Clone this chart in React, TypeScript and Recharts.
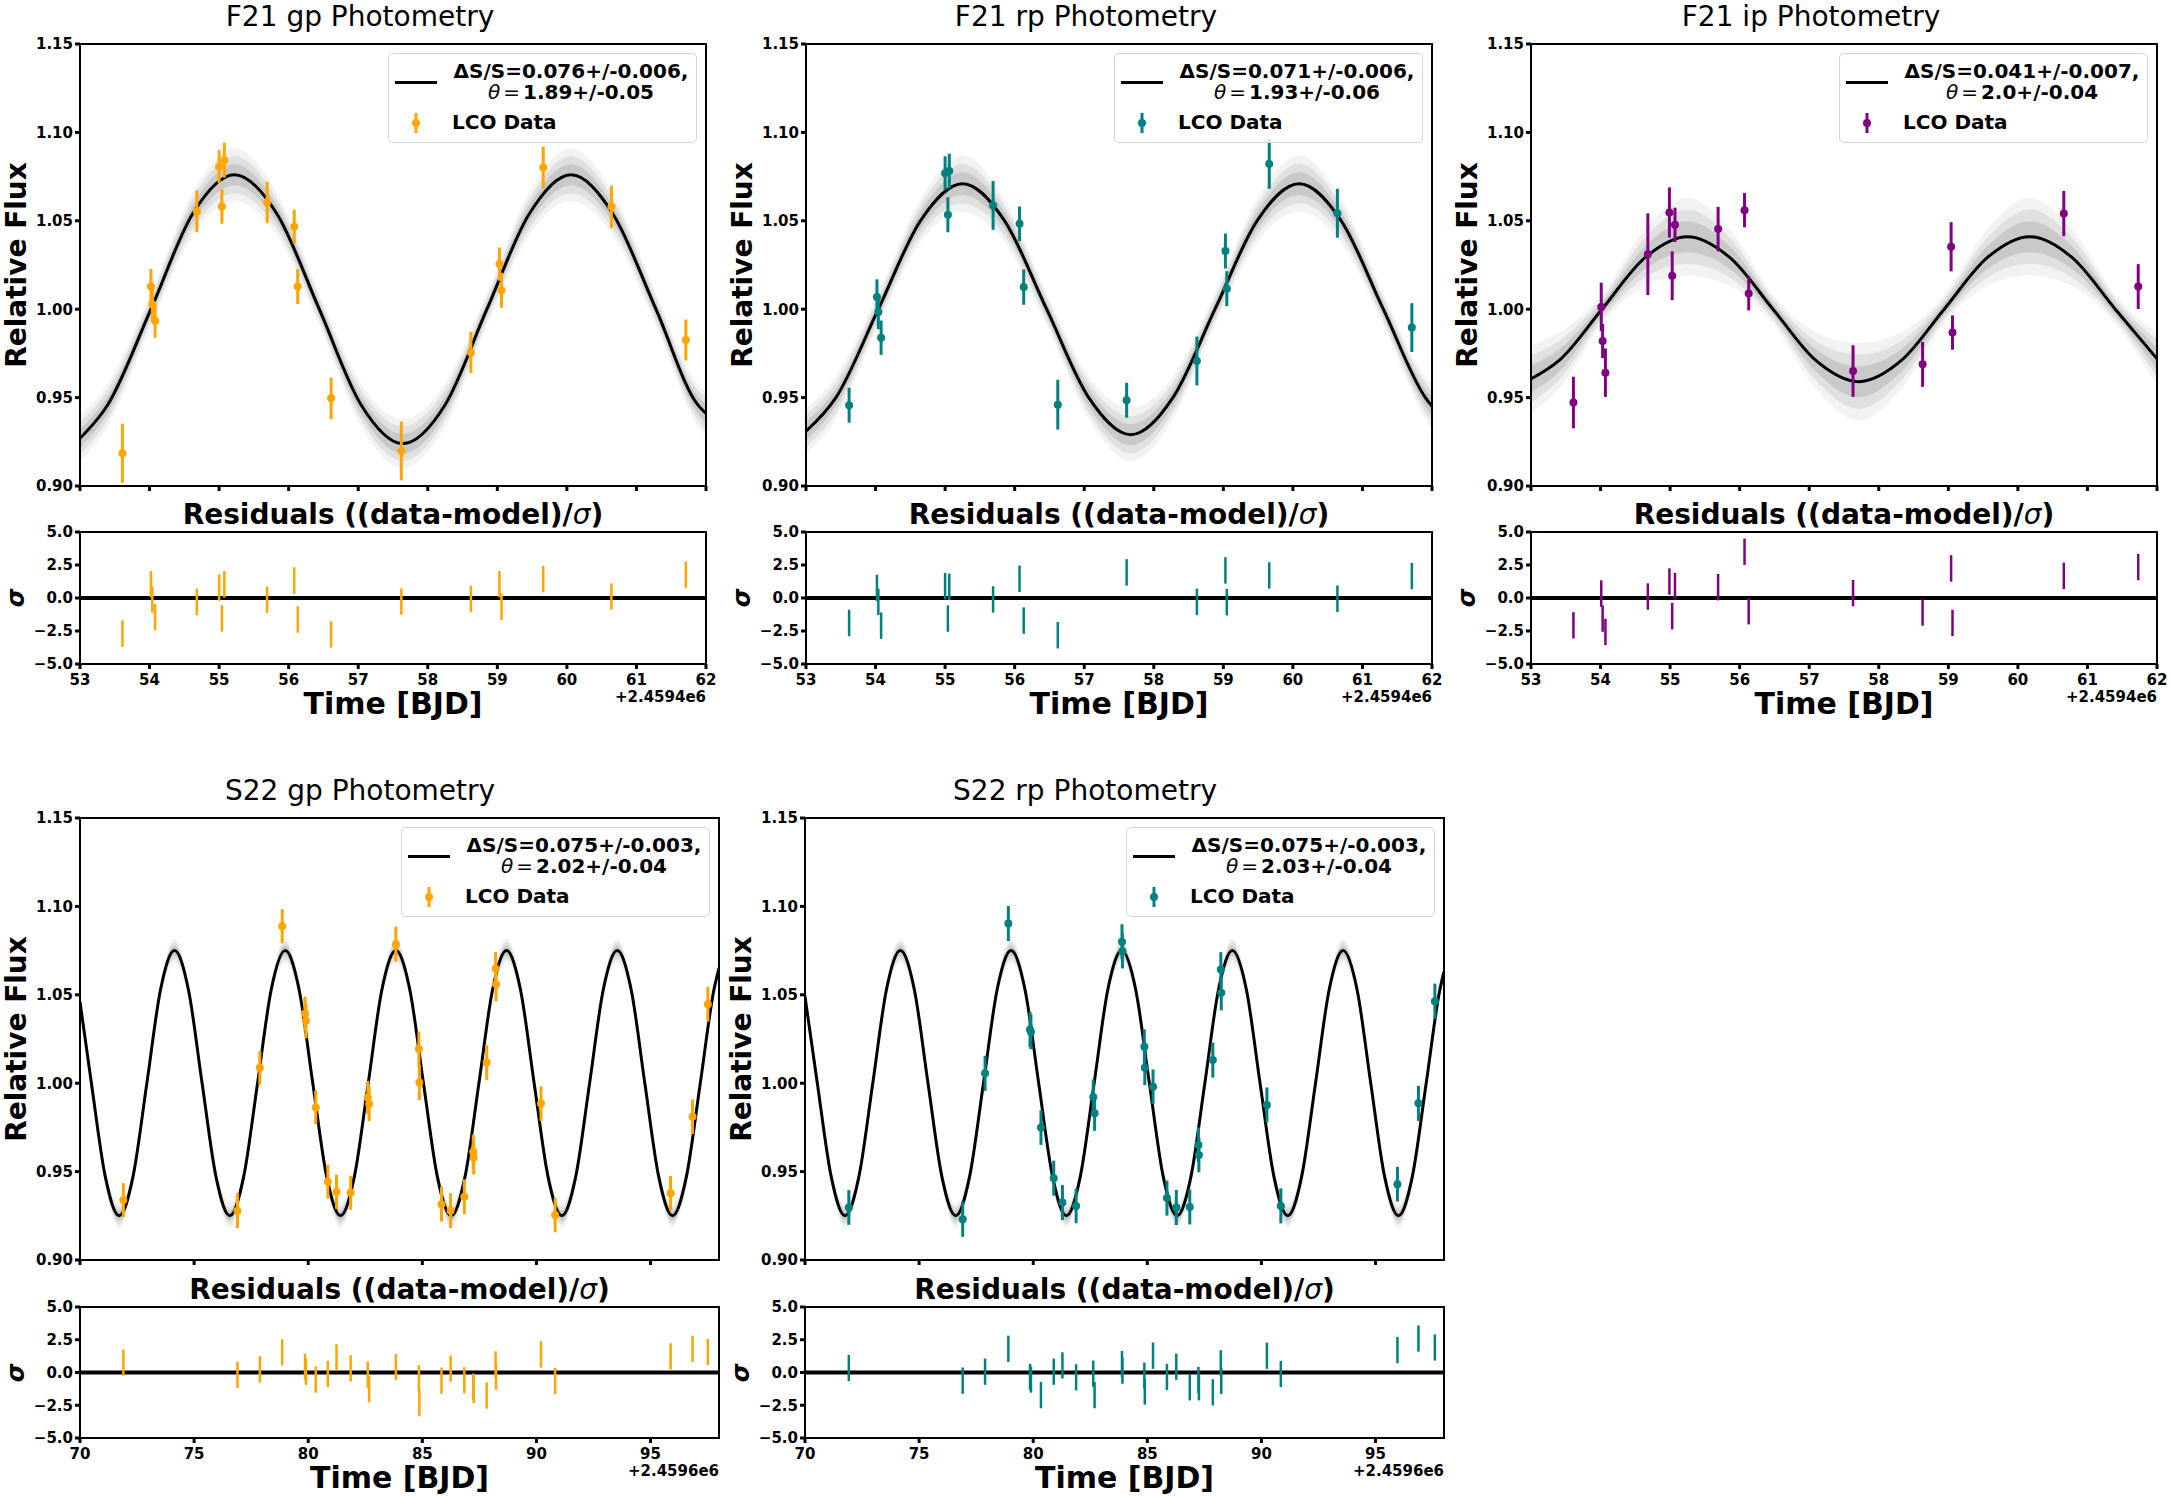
import React from 'react';
import { ComposedChart, Line, Area, Scatter, ErrorBar, XAxis, YAxis, ReferenceLine } from 'recharts';

const FONT = "'DejaVu Sans', sans-serif";
const ORANGE = '#ffa500';
const TEAL = '#008080';
const PURPLE = '#800080';

// residual bars span +/- 1 sigma
const RESID_HALF = 1;

const FLUX_TICKS = [0.9, 0.95, 1.0, 1.05, 1.1, 1.15];
const RESID_TICKS = [-5, -2.5, 0, 2.5, 5];
const F21_TICKS = [53, 54, 55, 56, 57, 58, 59, 60, 61, 62];
const S22_TICKS = [70, 75, 80, 85, 90, 95];

// ---------- F21 gp ----------
const f21gpTime = [53.61, 54.02, 54.04, 54.08, 54.68, 55.0, 55.04, 55.075, 55.69, 56.08, 56.13, 56.61, 57.62, 58.62, 59.03, 59.06, 59.66, 60.64, 61.71];
const f21gpFlux = [0.9185, 1.0128, 1.0028, 0.9934, 1.0553, 1.0806, 1.0581, 1.0843, 1.0604, 1.0466, 1.0128, 0.9496, 0.9198, 0.9755, 1.0255, 1.0107, 1.0802, 1.0579, 0.9826];
const f21gpErr = [0.0167, 0.0099, 0.0095, 0.0096, 0.0118, 0.0094, 0.0097, 0.0099, 0.0116, 0.0097, 0.0099, 0.0118, 0.0166, 0.0116, 0.0094, 0.0099, 0.0118, 0.012, 0.0116];
const f21gpResid = [-2.7, 1.05, -0.12, -1.45, -0.29, 0.8, -1.55, 1.03, -0.13, 1.32, -1.63, -2.76, -0.27, -0.07, 1.05, -0.67, 1.43, 0.11, 1.77];
const f21gpModelTime = [53.0, 53.4, 54.02, 54.62, 55.22, 55.83, 56.44, 57.04, 57.64, 58.25, 58.85, 59.46, 60.06, 60.66, 61.28, 61.88, 62.0];
const f21gpModel = [0.927, 0.946, 1.0, 1.054, 1.076, 1.054, 1.0, 0.946, 0.924, 0.946, 1.0, 1.054, 1.076, 1.054, 1.0, 0.946, 0.941];
const f21gpSpread = [0.013, 0.012, 0.009, 0.012, 0.015, 0.012, 0.009, 0.012, 0.014, 0.012, 0.009, 0.012, 0.015, 0.012, 0.009, 0.012, 0.013];

// ---------- F21 rp ----------
const f21rpTime = [53.62, 54.02, 54.04, 54.08, 55.0, 55.04, 55.06, 55.69, 56.07, 56.13, 56.62, 57.61, 58.62, 59.03, 59.05, 59.66, 60.64, 61.71];
const f21rpFlux = [0.9457, 1.0069, 0.9984, 0.9839, 1.0769, 1.0534, 1.0781, 1.0587, 1.0483, 1.0125, 0.946, 0.9485, 0.9707, 1.0329, 1.0116, 1.0822, 1.0543, 0.9896];
const f21rpErr = [0.0099, 0.01, 0.0097, 0.0097, 0.0096, 0.0099, 0.0099, 0.0138, 0.0098, 0.01, 0.0141, 0.0099, 0.0138, 0.0099, 0.0099, 0.0141, 0.0138, 0.0138];
const f21rpResid = [-1.89, 0.77, -0.29, -2.09, 0.9, -1.56, 0.85, -0.11, 1.46, -1.71, -2.82, 1.94, -0.29, 2.09, -0.32, 1.71, -0.06, 1.66];
const f21rpModelTime = [53.0, 53.43, 54.04, 54.645, 55.25, 55.855, 56.46, 57.065, 57.67, 58.275, 58.88, 59.485, 60.09, 60.695, 61.3, 61.905, 62.0];
const f21rpModel = [0.931, 0.95, 1.0, 1.05, 1.071, 1.05, 1.0, 0.95, 0.929, 0.95, 1.0, 1.05, 1.071, 1.05, 1.0, 0.95, 0.945];
const f21rpSpread = [0.013, 0.012, 0.009, 0.012, 0.016, 0.012, 0.009, 0.012, 0.015, 0.012, 0.009, 0.012, 0.016, 0.012, 0.009, 0.012, 0.013];

// ---------- F21 ip ----------
const f21ipTime = [53.61, 54.01, 54.03, 54.07, 54.68, 54.99, 55.03, 55.07, 55.69, 56.07, 56.13, 57.63, 58.63, 59.04, 59.06, 60.66, 61.73];
const f21ipFlux = [0.9472, 1.0013, 0.982, 0.9641, 1.0311, 1.0547, 1.0189, 1.0477, 1.0453, 1.056, 1.0089, 0.965, 0.9688, 1.0353, 0.9868, 1.0541, 1.0128];
const f21ipErr = [0.0146, 0.0137, 0.0096, 0.0137, 0.0231, 0.0142, 0.0138, 0.0097, 0.0126, 0.0097, 0.0096, 0.0146, 0.0127, 0.0139, 0.0097, 0.0128, 0.0127];
const f21ipResid = [-2.07, 0.34, -1.56, -2.57, 0.11, 1.25, -1.38, 0.9, 0.82, 3.51, -1.0, 0.37, -1.1, 2.24, -1.89, 1.68, 2.34];
const f21ipModelTime = [53.0, 53.405, 54.02, 54.635, 55.25, 55.865, 56.48, 57.095, 57.71, 58.325, 58.94, 59.555, 60.17, 60.785, 61.4, 62.0];
const f21ipModel = [0.9605, 0.971, 1.0, 1.029, 1.041, 1.029, 1.0, 0.971, 0.959, 0.971, 1.0, 1.029, 1.041, 1.029, 1.0, 0.972];
const f21ipSpread = [0.019, 0.016, 0.008, 0.016, 0.022, 0.016, 0.008, 0.016, 0.022, 0.016, 0.008, 0.016, 0.022, 0.016, 0.008, 0.015];

// ---------- S22 gp ----------
const s22gpTime = [71.9, 76.9, 77.88, 78.86, 79.86, 79.9, 80.33, 80.86, 81.24, 81.86, 82.61, 82.67, 83.84, 84.85, 84.87, 85.84, 86.24, 86.84, 87.23, 87.25, 87.82, 88.21, 88.23, 90.2, 90.82, 95.88, 96.84, 97.51];
const s22gpFlux = [0.9339, 0.9279, 1.0087, 1.0888, 1.0394, 1.0353, 0.9863, 0.9443, 0.9386, 0.938, 0.9919, 0.9882, 1.0786, 1.0193, 1.0004, 0.9316, 0.9279, 0.9358, 0.9612, 0.958, 1.0117, 1.0648, 1.056, 0.9885, 0.9254, 0.9377, 0.981, 1.0447];
const s22gpErr = [0.0096, 0.0099, 0.0096, 0.0096, 0.0096, 0.0099, 0.0096, 0.0096, 0.0097, 0.0096, 0.0094, 0.0097, 0.0099, 0.0099, 0.0099, 0.0099, 0.0099, 0.0098, 0.0097, 0.0097, 0.0099, 0.0094, 0.0097, 0.0098, 0.0097, 0.0098, 0.0098, 0.0099];
const s22gpResid = [0.75, -0.19, 0.24, 1.53, 0.44, 0.06, -0.54, -0.11, 1.15, 0.32, -0.16, -1.28, 0.42, -0.44, -2.34, -0.62, 0.29, -0.59, -1.08, -1.33, -1.76, 0.62, -0.32, 1.38, -0.65, 1.23, 1.81, 1.56];
const s22gpModelTime = [70.0, 70.5, 71.11, 71.715, 72.32, 72.93, 73.53, 74.14, 74.75, 75.35, 75.96, 76.565, 77.17, 77.78, 78.38, 78.99, 79.6, 80.2, 80.81, 81.415, 82.02, 82.63, 83.23, 83.84, 84.45, 85.05, 85.66, 86.265, 86.87, 87.48, 88.08, 88.69, 89.3, 89.9, 90.51, 91.115, 91.72, 92.33, 92.93, 93.54, 94.15, 94.75, 95.36, 95.965, 96.57, 97.18, 97.78, 98.0];
const s22gpModel = [1.046, 1.0, 0.947, 0.925, 0.947, 1.0, 1.053, 1.075, 1.053, 1.0, 0.947, 0.925, 0.947, 1.0, 1.053, 1.075, 1.053, 1.0, 0.947, 0.925, 0.947, 1.0, 1.053, 1.075, 1.053, 1.0, 0.947, 0.925, 0.947, 1.0, 1.053, 1.075, 1.053, 1.0, 0.947, 0.925, 0.947, 1.0, 1.053, 1.075, 1.053, 1.0, 0.947, 0.925, 0.947, 1.0, 1.053, 1.065];

// ---------- S22 rp ----------
const s22rpTime = [71.92, 76.91, 77.89, 78.91, 79.86, 79.9, 80.34, 80.9, 81.28, 81.88, 82.63, 82.69, 83.89, 83.91, 84.87, 84.89, 85.25, 85.86, 86.27, 86.86, 87.24, 87.26, 87.87, 88.22, 88.24, 90.24, 90.85, 95.96, 96.88, 97.6];
const s22rpFlux = [0.9297, 0.9231, 1.0056, 1.0903, 1.0304, 1.0291, 0.9749, 0.9463, 0.9325, 0.9306, 0.9922, 0.983, 1.08, 1.0747, 1.0206, 1.0088, 0.998, 0.935, 0.9297, 0.93, 0.9651, 0.9594, 1.0131, 1.0643, 1.0511, 0.9877, 0.9306, 0.9429, 0.9886, 1.0464];
const s22rpErr = [0.0098, 0.01, 0.0099, 0.0099, 0.01, 0.0099, 0.0098, 0.0099, 0.0099, 0.0098, 0.0099, 0.0099, 0.0099, 0.0098, 0.0099, 0.0099, 0.0098, 0.0099, 0.0099, 0.0099, 0.0099, 0.0098, 0.0099, 0.0098, 0.0099, 0.0099, 0.0099, 0.0098, 0.0099, 0.0099];
const s22rpResid = [0.34, -0.62, 0.06, 1.81, -0.34, -0.54, -1.73, 0.06, 0.54, -0.37, -0.09, -1.73, 0.65, 0.14, -0.24, -1.46, 1.28, -0.34, 0.44, -1.13, -0.57, -1.13, -1.51, 0.7, -0.65, 1.28, -0.11, 1.71, 2.59, 1.91];
const s22rpModelTime = [70.0, 70.54, 71.15, 71.755, 72.36, 72.97, 73.57, 74.18, 74.79, 75.39, 76.0, 76.605, 77.21, 77.82, 78.42, 79.03, 79.64, 80.24, 80.85, 81.455, 82.06, 82.67, 83.27, 83.88, 84.49, 85.09, 85.7, 86.305, 86.91, 87.52, 88.12, 88.73, 89.34, 89.94, 90.55, 91.155, 91.76, 92.37, 92.97, 93.58, 94.19, 94.79, 95.4, 96.005, 96.61, 97.22, 97.82, 98.0];
const s22rpModel = [1.049, 1.0, 0.947, 0.925, 0.947, 1.0, 1.053, 1.075, 1.053, 1.0, 0.947, 0.925, 0.947, 1.0, 1.053, 1.075, 1.053, 1.0, 0.947, 0.925, 0.947, 1.0, 1.053, 1.075, 1.053, 1.0, 0.947, 0.925, 0.947, 1.0, 1.053, 1.075, 1.053, 1.0, 0.947, 0.925, 0.947, 1.0, 1.053, 1.075, 1.053, 1.0, 0.947, 0.925, 0.947, 1.0, 1.053, 1.063];

// spread of the posterior sample curves around the S22 model (same sampling for gp and rp)
const s22Spread = [0.005,
  0.004, 0.005, 0.007, 0.005, 0.004, 0.005, 0.007, 0.005,
  0.004, 0.005, 0.007, 0.005, 0.004, 0.005, 0.007, 0.005,
  0.004, 0.005, 0.007, 0.005, 0.004, 0.005, 0.007, 0.005,
  0.004, 0.005, 0.007, 0.005, 0.004, 0.005, 0.007, 0.005,
  0.004, 0.005, 0.007, 0.005, 0.004, 0.005, 0.007, 0.005,
  0.004, 0.005, 0.007, 0.005, 0.004, 0.005, 0.006];

type PanelCfg = {
  title: string;
  left: number;
  top: number;
  w: number;
  resTop: number;
  rh: number;
  xDomain: [number, number];
  xTicks: number[];
  offset: string;
  color: string;
  dsLabel: string;
  theta: string;
  modelT: number[];
  model: number[];
  spread: number[];
  t: number[];
  flux: number[];
  err: number[];
  resid: number[];
};

const MAIN_H = 442;
const AX_W = 80;
const PAD_T = 14;
const PAD_R = 18;

// soft posterior band: nested layers (fraction of spread, opacity)
const BAND_LAYERS: [number, number][] = [
  [1.0, 0.05],
  [0.7, 0.07],
  [0.4, 0.1],
];

const tickFont = { fill: '#000', fontSize: 15, fontWeight: 700, fontFamily: FONT };
const tickLineStyle = { stroke: '#000', strokeWidth: 3 };

const fmtFlux = (v: number) => v.toFixed(2);
const fmtRes = (v: number) => (v < 0 ? '\u2212' + Math.abs(v).toFixed(1) : v.toFixed(1));

// tight line box so the text box hugs the glyphs (baseline stays put)
const centered = (x: number, y: number): React.CSSProperties => ({
  position: 'absolute',
  left: x,
  top: y,
  transform: 'translate(-50%, -50%)',
  whiteSpace: 'nowrap',
  lineHeight: 0.8,
});

function Panel({ c }: { c: PanelCfg }) {
  const modelRows = c.modelT.map((t, i) => ({ t, y: c.model[i] }));
  const bands = BAND_LAYERS.map(([k]) =>
    c.modelT.map((t, i) => ({ t, band: [c.model[i] - c.spread[i] * k, c.model[i] + c.spread[i] * k] }))
  );
  const points = c.t.map((t, i) => ({ t, y: c.flux[i], e: c.err[i] }));
  const resRows = c.t.map((t, i) => ({ t, y: c.resid[i], e: RESID_HALF }));
  const cw = c.w + AX_W + PAD_R;

  const dot = (p: any) => <circle cx={p.cx} cy={p.cy} r={4} fill={c.color} />;
  const noDot = () => <g />;

  return (
    <>
      {/* light-curve panel */}
      <div style={{ position: 'absolute', left: c.left - AX_W, top: c.top - PAD_T }}>
        <ComposedChart width={cw} height={MAIN_H + PAD_T + 10} margin={{ top: PAD_T, right: PAD_R, bottom: 0, left: 0 }}>
          <XAxis
            type="number"
            dataKey="t"
            domain={c.xDomain}
            ticks={c.xTicks}
            interval={0}
            allowDataOverflow
            height={10}
            axisLine={false}
            tick={() => <g />}
            tickLine={tickLineStyle}
            tickSize={5}
          />
          <YAxis
            type="number"
            dataKey="y"
            domain={[0.9, 1.15]}
            ticks={FLUX_TICKS}
            interval={0}
            allowDataOverflow
            width={AX_W}
            axisLine={false}
            tickFormatter={fmtFlux}
            tick={tickFont}
            tickLine={tickLineStyle}
            tickSize={5}
            tickMargin={2}
          />
          {bands.map((b, i) => (
            <Area
              key={i}
              data={b}
              dataKey="band"
              type="monotone"
              stroke="none"
              fill="#000"
              fillOpacity={BAND_LAYERS[i][1]}
              isAnimationActive={false}
            />
          ))}
          <Line data={modelRows} dataKey="y" type="monotone" stroke="#000" strokeWidth={3} dot={false} isAnimationActive={false} />
          <Scatter data={points} dataKey="y" shape={dot} isAnimationActive={false}>
            <ErrorBar dataKey="e" direction="y" width={0} stroke={c.color} strokeWidth={3} />
          </Scatter>
        </ComposedChart>
      </div>
      <div
        style={{
          position: 'absolute',
          left: c.left - 1.25,
          top: c.top - 1.25,
          width: c.w + 2.5,
          height: MAIN_H + 2.5,
          border: '2.5px solid #000',
          boxSizing: 'border-box',
        }}
      />

      {/* legend */}
      <div
        style={{
          position: 'absolute',
          left: c.left + c.w - 9 - 309,
          top: c.top + 9,
          width: 309,
          height: 90,
          boxSizing: 'border-box',
          border: '1.5px solid #d4d4d4',
          borderRadius: 5,
          background: 'rgba(255,255,255,0.8)',
        }}
      >
        <div style={{ position: 'absolute', left: 6, top: 27, width: 42, height: 3, background: '#000' }} />
        <div
          style={{
            position: 'absolute',
            left: 63,
            top: 7,
            width: 238,
            textAlign: 'center',
            fontSize: 20,
            fontWeight: 700,
            lineHeight: '21px',
            whiteSpace: 'nowrap',
          }}
        >
          {c.dsLabel}
          <br />
          <span style={{ fontStyle: 'italic', fontWeight: 400 }}>θ</span>
          <span style={{ fontWeight: 400, margin: '0 3px' }}>=</span>
          {c.theta}
        </div>
        <svg style={{ position: 'absolute', left: 21, top: 57 }} width={12} height={24}>
          <line x1={6} y1={2} x2={6} y2={22} stroke={c.color} strokeWidth={3} />
          <circle cx={6} cy={12} r={4} fill={c.color} />
        </svg>
        <div style={{ position: 'absolute', left: 63, top: 58, fontSize: 20, fontWeight: 700, lineHeight: '21px' }}>
          LCO Data
        </div>
      </div>

      {/* residual panel */}
      <div style={{ position: 'absolute', left: c.left - AX_W, top: c.resTop - PAD_T }}>
        <ComposedChart width={cw} height={c.rh + PAD_T + 30} margin={{ top: PAD_T, right: PAD_R, bottom: 0, left: 0 }}>
          <XAxis
            type="number"
            dataKey="t"
            domain={c.xDomain}
            ticks={c.xTicks}
            interval={0}
            allowDataOverflow
            height={30}
            axisLine={false}
            tickFormatter={(v: number) => String(v)}
            tick={tickFont}
            tickLine={tickLineStyle}
            tickSize={5}
            tickMargin={5}
          />
          <YAxis
            type="number"
            dataKey="y"
            domain={[-5, 5]}
            ticks={RESID_TICKS}
            interval={0}
            allowDataOverflow
            width={AX_W}
            axisLine={false}
            tickFormatter={fmtRes}
            tick={tickFont}
            tickLine={tickLineStyle}
            tickSize={5}
            tickMargin={2}
          />
          <ReferenceLine y={0} stroke="#000" strokeWidth={4} />
          <Scatter data={resRows} dataKey="y" shape={noDot} isAnimationActive={false}>
            <ErrorBar dataKey="e" direction="y" width={0} stroke={c.color} strokeWidth={2.5} />
          </Scatter>
        </ComposedChart>
      </div>
      <div
        style={{
          position: 'absolute',
          left: c.left - 1.25,
          top: c.resTop - 1.25,
          width: c.w + 2.5,
          height: c.rh + 2.5,
          border: '2.5px solid #000',
          boxSizing: 'border-box',
        }}
      />

      {/* texts */}
      <div style={{ ...centered(c.left + 280, c.top - 27), fontSize: 28 }}>{c.title}</div>
      <div style={{ ...centered(c.left - 63, c.top + MAIN_H / 2), transform: 'translate(-50%, -50%) rotate(-90deg)', fontSize: 28, fontWeight: 700 }}>
        Relative Flux
      </div>
      <div style={{ ...centered(c.left + c.w / 2, c.resTop - 17), fontSize: 28, fontWeight: 700 }}>
        Residuals ((data-model)/<span style={{ fontStyle: 'italic', fontWeight: 400 }}>σ</span>)
      </div>
      <div style={{ ...centered(c.left - 63, c.resTop + c.rh / 2), transform: 'translate(-50%, -50%) rotate(-90deg)', fontSize: 24, fontWeight: 700, fontStyle: 'italic' }}>
        σ
      </div>
      <div style={{ ...centered(c.left + c.w / 2, c.resTop + c.rh + 40), fontSize: 30, fontWeight: 700 }}>Time [BJD]</div>
      <div
        style={{
          position: 'absolute',
          right: 2170 - (c.left + c.w),
          top: c.resTop + c.rh + 33,
          transform: 'translateY(-50%)',
          fontSize: 15,
          fontWeight: 700,
          lineHeight: 1,
          whiteSpace: 'nowrap',
        }}
      >
        {c.offset}
      </div>
    </>
  );
}

const panels: PanelCfg[] = [
  {
    title: 'F21 gp Photometry', left: 80, top: 44, w: 626, resTop: 532, rh: 132,
    xDomain: [53, 62], xTicks: F21_TICKS, offset: '+2.4594e6', color: ORANGE,
    dsLabel: 'ΔS/S=0.076+/-0.006,', theta: '1.89+/-0.05',
    modelT: f21gpModelTime, model: f21gpModel, spread: f21gpSpread,
    t: f21gpTime, flux: f21gpFlux, err: f21gpErr, resid: f21gpResid,
  },
  {
    title: 'F21 rp Photometry', left: 806, top: 44, w: 626, resTop: 532, rh: 132,
    xDomain: [53, 62], xTicks: F21_TICKS, offset: '+2.4594e6', color: TEAL,
    dsLabel: 'ΔS/S=0.071+/-0.006,', theta: '1.93+/-0.06',
    modelT: f21rpModelTime, model: f21rpModel, spread: f21rpSpread,
    t: f21rpTime, flux: f21rpFlux, err: f21rpErr, resid: f21rpResid,
  },
  {
    title: 'F21 ip Photometry', left: 1531, top: 44, w: 626, resTop: 532, rh: 132,
    xDomain: [53, 62], xTicks: F21_TICKS, offset: '+2.4594e6', color: PURPLE,
    dsLabel: 'ΔS/S=0.041+/-0.007,', theta: '2.0+/-0.04',
    modelT: f21ipModelTime, model: f21ipModel, spread: f21ipSpread,
    t: f21ipTime, flux: f21ipFlux, err: f21ipErr, resid: f21ipResid,
  },
  {
    title: 'S22 gp Photometry', left: 80, top: 818, w: 639, resTop: 1307, rh: 131,
    xDomain: [70, 98], xTicks: S22_TICKS, offset: '+2.4596e6', color: ORANGE,
    dsLabel: 'ΔS/S=0.075+/-0.003,', theta: '2.02+/-0.04',
    modelT: s22gpModelTime, model: s22gpModel, spread: s22Spread,
    t: s22gpTime, flux: s22gpFlux, err: s22gpErr, resid: s22gpResid,
  },
  {
    title: 'S22 rp Photometry', left: 805, top: 818, w: 639, resTop: 1307, rh: 131,
    xDomain: [70, 98], xTicks: S22_TICKS, offset: '+2.4596e6', color: TEAL,
    dsLabel: 'ΔS/S=0.075+/-0.003,', theta: '2.03+/-0.04',
    modelT: s22rpModelTime, model: s22rpModel, spread: s22Spread,
    t: s22rpTime, flux: s22rpFlux, err: s22rpErr, resid: s22rpResid,
  },
];

export default function App() {
  return (
    <div
      style={{
        position: 'absolute',
        left: 0,
        top: 0,
        width: 2170,
        height: 1496,
        background: '#fff',
        fontFamily: FONT,
        color: '#000',
        overflow: 'hidden',
      }}
    >
      {panels.map((p) => (
        <Panel key={p.title} c={p} />
      ))}
    </div>
  );
}
